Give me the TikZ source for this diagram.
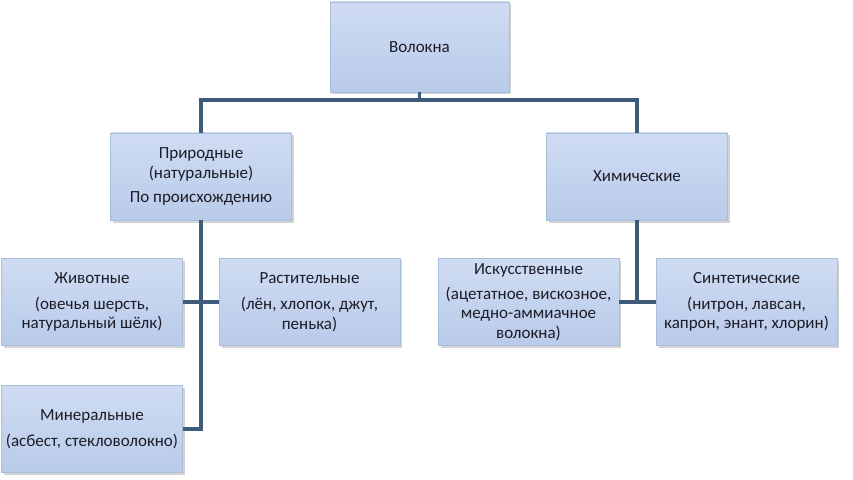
\documentclass[tikz,border=0pt]{standalone}
\usepackage{fontspec}
\setmainfont{Carlito}
\usepackage{tikz}
\usetikzlibrary{shadows}
\definecolor{wire}{HTML}{3E5C7A}
\definecolor{boxline}{HTML}{AABDDA}
\definecolor{boxtop}{HTML}{CFDCF2}
\definecolor{boxmid}{HTML}{E6EDF8}
\definecolor{boxbot}{HTML}{B9CBEA}
\definecolor{ink}{HTML}{1C1C28}

\begin{document}
\begin{tikzpicture}[x=0.03cm,y=-0.03cm,
  fibre/.style={draw=boxline,top color=boxtop,middle color=boxmid,bottom color=boxbot,
    minimum width=5.42cm,minimum height=2.62cm,align=center,text=ink,inner xsep=1pt,
    font=\fontsize{14.5}{16.5}\selectfont,
    drop shadow={opacity=.35,shadow xshift=2pt,shadow yshift=-2pt}},
  link/.style={wire,line width=3pt}]
\useasboundingbox (0,0) rectangle (853,479);
% top level
\node[fibre,minimum width=5.37cm,minimum height=2.7cm] (root) at (419.5,47) {Волокна};
\node[fibre] (nat) at (201,176.5) {Природные\\(натуральные)\\[4pt]По происхождению};
\node[fibre] (chem) at (637,176.5) {Химические};
% natural
\node[fibre] (animal) at (92,302) {Животные\\[6pt](овечья шерсть,\\натуральный шёлк)};
\node[fibre] (plant) at (309.5,302) {Растительные\\[6pt](лён, хлопок, джут,\\пенька)};
\node[fibre] (mineral) at (92,429) {Минеральные\\[6pt](асбест, стекловолокно)};
% chemical
\node[fibre] (artif) at (528.5,302) {Искусственные\\[5pt](ацетатное, вискозное,\\медно-аммиачное\\волокна)};
\node[fibre] (synth) at (746.5,302) {Синтетические\\[6pt](нитрон, лавсан,\\капрон, энант, хлорин)};
% connectors
\coordinate (fork) at (419.5,100);
\draw[link] (root) -- (fork) -| (nat);
\draw[link] (fork) -| (chem);
\draw[link] (nat) |- (mineral);
\draw[link] (animal) -- (plant);
\draw[link] (chem) -- (chem |- artif);
\draw[link] (artif) -- (synth);
\end{tikzpicture}
\end{document}
